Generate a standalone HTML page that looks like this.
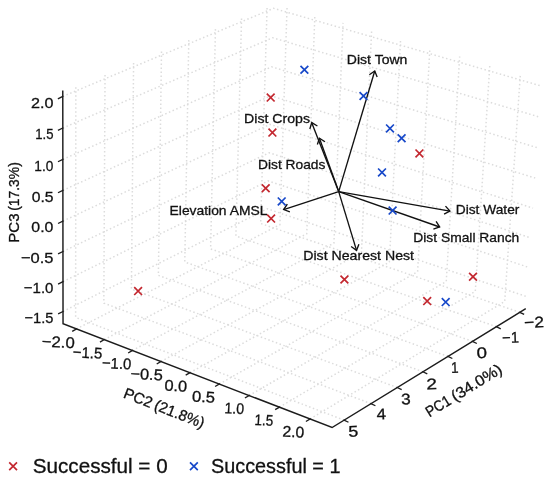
<!DOCTYPE html>
<html lang="en"><head><meta charset="utf-8"><title>PCA biplot</title>
<style>
html,body{margin:0;padding:0;background:#fff}
body{width:550px;height:478px;overflow:hidden}
svg{display:block}
text{font-family:"Liberation Sans",sans-serif;fill:#111111;stroke:#111111;stroke-width:0.3px}
.g{fill:none;stroke:#dcdcdc;stroke-width:1.5;stroke-dasharray:1.5 2.5}
.a{fill:none;stroke:#1c1c1c;stroke-width:1.45;stroke-linejoin:miter}
.t{stroke:#1c1c1c;stroke-width:1.3}
.ar{fill:none;stroke:#111;stroke-width:1.35;stroke-linejoin:miter}
.mr{fill:none;stroke:#c3272f;stroke-width:1.7}
.mb{fill:none;stroke:#1748c9;stroke-width:1.7}
</style></head><body>
<svg width="550" height="478" viewBox="0 0 550 478">
<rect width="550" height="478" fill="#fff"/>
<g class="grid">
<polyline class="g" points="519.77,312.34 260.64,223.47 267.14,5.54"/>
<polyline class="g" points="496.37,326.7 235.89,236.04 241.61,16.16"/>
<polyline class="g" points="472.44,341.38 210.61,248.87 215.5,27.01"/>
<polyline class="g" points="447.95,356.41 184.78,261.98 188.82,38.1"/>
<polyline class="g" points="422.9,371.78 158.38,275.38 161.53,49.44"/>
<polyline class="g" points="397.25,387.52 131.41,289.08 133.61,61.05"/>
<polyline class="g" points="370.99,403.63 103.83,303.08 105.05,72.92"/>
<polyline class="g" points="344.1,420.13 75.63,317.39 75.82,85.07"/>
<polyline class="g" points="76.4,328.93 279.91,224.66 287.07,6.68"/>
<polyline class="g" points="104.18,339.64 306.74,233.83 314.88,14.71"/>
<polyline class="g" points="132.35,350.5 333.92,243.11 343.06,22.85"/>
<polyline class="g" points="160.92,361.51 361.46,252.52 371.61,31.1"/>
<polyline class="g" points="189.89,372.68 389.35,262.05 400.56,39.46"/>
<polyline class="g" points="219.29,384.01 417.62,271.71 429.9,47.93"/>
<polyline class="g" points="249.11,395.51 446.26,281.49 459.65,56.52"/>
<polyline class="g" points="279.37,407.18 475.29,291.41 489.81,65.23"/>
<polyline class="g" points="310.08,419.01 504.7,301.46 520.39,74.07"/>
<polyline class="g" points="63.03,311.51 267.34,208.77 526.64,296.63"/>
<polyline class="g" points="62.99,281.65 268.2,180.89 528.76,267.41"/>
<polyline class="g" points="62.96,251.52 269.07,152.76 530.9,237.9"/>
<polyline class="g" points="62.92,221.09 269.95,124.38 533.05,208.13"/>
<polyline class="g" points="62.88,190.37 270.83,95.75 535.23,178.07"/>
<polyline class="g" points="62.85,159.35 271.72,66.86 537.43,147.73"/>
<polyline class="g" points="62.81,128.03 272.62,37.72 539.65,117.1"/>
<polyline class="g" points="62.77,96.41 273.52,8.32 541.89,86.18"/>
</g>
<g class="axes">
<polyline class="a" points="62.77,90.49 63.04,323.78 332.09,427.5 525.77,308.65"/>
<line class="t" x1="63.53" y1="311.26" x2="58.13" y2="313.91"/>
<line class="t" x1="63.49" y1="281.4" x2="58.09" y2="284.05"/>
<line class="t" x1="63.46" y1="251.27" x2="58.06" y2="253.92"/>
<line class="t" x1="63.42" y1="220.84" x2="58.02" y2="223.49"/>
<line class="t" x1="63.38" y1="190.12" x2="57.98" y2="192.77"/>
<line class="t" x1="63.35" y1="159.1" x2="57.95" y2="161.75"/>
<line class="t" x1="63.31" y1="127.78" x2="57.91" y2="130.43"/>
<line class="t" x1="63.27" y1="96.16" x2="57.87" y2="98.81"/>
<line class="t" x1="77" y1="328.58" x2="72.2" y2="331.43"/>
<line class="t" x1="104.78" y1="339.29" x2="99.98" y2="342.14"/>
<line class="t" x1="132.95" y1="350.15" x2="128.15" y2="353"/>
<line class="t" x1="161.52" y1="361.16" x2="156.72" y2="364.01"/>
<line class="t" x1="190.49" y1="372.33" x2="185.69" y2="375.18"/>
<line class="t" x1="219.89" y1="383.66" x2="215.09" y2="386.51"/>
<line class="t" x1="249.71" y1="395.16" x2="244.91" y2="398.01"/>
<line class="t" x1="279.97" y1="406.83" x2="275.17" y2="409.68"/>
<line class="t" x1="310.68" y1="418.66" x2="305.88" y2="421.51"/>
<line class="t" x1="519.17" y1="312.04" x2="524.17" y2="314.44"/>
<line class="t" x1="495.77" y1="326.4" x2="500.77" y2="328.8"/>
<line class="t" x1="471.84" y1="341.08" x2="476.84" y2="343.48"/>
<line class="t" x1="447.35" y1="356.11" x2="452.35" y2="358.51"/>
<line class="t" x1="422.3" y1="371.48" x2="427.3" y2="373.88"/>
<line class="t" x1="396.65" y1="387.22" x2="401.65" y2="389.62"/>
<line class="t" x1="370.39" y1="403.33" x2="375.39" y2="405.73"/>
<line class="t" x1="343.5" y1="419.83" x2="348.5" y2="422.23"/>
</g>
<g class="labels">
<text class="tl" x="24.57" y="322.71" font-size="15.4" textLength="28.91" lengthAdjust="spacingAndGlyphs">−1.5</text>
<text class="tl" x="23.75" y="292.85" font-size="15.4" textLength="29.66" lengthAdjust="spacingAndGlyphs">−1.0</text>
<text class="tl" x="20.98" y="262.72" font-size="15.4" textLength="32.57" lengthAdjust="spacingAndGlyphs">−0.5</text>
<text class="tl" x="31.36" y="232.29" font-size="15.4" textLength="22.09" lengthAdjust="spacingAndGlyphs">0.0</text>
<text class="tl" x="31.67" y="201.57" font-size="15.4" textLength="21.86" lengthAdjust="spacingAndGlyphs">0.5</text>
<text class="tl" x="34.37" y="170.55" font-size="15.4" textLength="19.01" lengthAdjust="spacingAndGlyphs">1.0</text>
<text class="tl" x="35.22" y="139.23" font-size="15.4" textLength="18.21" lengthAdjust="spacingAndGlyphs">1.5</text>
<text class="tl" x="30.99" y="107.61" font-size="15.4" textLength="22.48" lengthAdjust="spacingAndGlyphs">2.0</text>
<text class="tl" x="41.87" y="347.37" font-size="15.4" textLength="32.9" lengthAdjust="spacingAndGlyphs" transform="rotate(3 58.45 341.83)">−2.0</text>
<text class="tl" x="72.85" y="358.06" font-size="15.4" textLength="29.53" lengthAdjust="spacingAndGlyphs" transform="rotate(3 87.7 352.52)">−1.5</text>
<text class="tl" x="101.95" y="368.76" font-size="15.4" textLength="29.46" lengthAdjust="spacingAndGlyphs" transform="rotate(3 116.8 363.22)">−1.0</text>
<text class="tl" x="130.48" y="379.59" font-size="15.4" textLength="32.36" lengthAdjust="spacingAndGlyphs" transform="rotate(3 146.75 374.05)">−0.5</text>
<text class="tl" x="164.45" y="391.14" font-size="15.4" textLength="22.73" lengthAdjust="spacingAndGlyphs" transform="rotate(3 175.85 385.59)">0.0</text>
<text class="tl" x="191.93" y="402.23" font-size="15.4" textLength="23.13" lengthAdjust="spacingAndGlyphs" transform="rotate(3 203.5 396.68)">0.5</text>
<text class="tl" x="224.44" y="413.73" font-size="15.4" textLength="19.66" lengthAdjust="spacingAndGlyphs" transform="rotate(3 234.55 408.18)">1.0</text>
<text class="tl" x="254.49" y="425.45" font-size="15.4" textLength="18.75" lengthAdjust="spacingAndGlyphs" transform="rotate(3 264.1 419.91)">1.5</text>
<text class="tl" x="282.62" y="437.07" font-size="15.4" textLength="21.73" lengthAdjust="spacingAndGlyphs" transform="rotate(3 293.6 431.52)">2.0</text>
<text class="tl" x="524.13" y="327.4" font-size="15.4" textLength="19.84" lengthAdjust="spacingAndGlyphs" transform="rotate(-2 534.05 321.86)">−2</text>
<text class="tl" x="502.17" y="342.7" font-size="15.4" textLength="16.69" lengthAdjust="spacingAndGlyphs" transform="rotate(-2 510.55 337.16)">−1</text>
<text class="tl" x="476.65" y="358" font-size="15.4" textLength="10.43" lengthAdjust="spacingAndGlyphs" transform="rotate(-2 481.9 352.46)">0</text>
<text class="tl" x="451" y="372.9" font-size="15.4" textLength="7.42" lengthAdjust="spacingAndGlyphs" transform="rotate(-2 454.9 367.36)">1</text>
<text class="tl" x="426.34" y="389.3" font-size="15.4" textLength="10.63" lengthAdjust="spacingAndGlyphs" transform="rotate(-2 431.65 383.76)">2</text>
<text class="tl" x="401.11" y="404.3" font-size="15.4" textLength="9.6" lengthAdjust="spacingAndGlyphs" transform="rotate(-2 405.9 398.76)">3</text>
<text class="tl" x="376.56" y="419.4" font-size="15.4" textLength="9.47" lengthAdjust="spacingAndGlyphs" transform="rotate(-2 381.2 413.86)">4</text>
<text class="tl" x="348.38" y="436.5" font-size="15.4" textLength="9.95" lengthAdjust="spacingAndGlyphs" transform="rotate(-2 353.35 430.96)">5</text>
<text class="xl" y="207.81" font-size="15.3" transform="rotate(-90 13.6 202.3)"><tspan x="-26.8" textLength="29.21" lengthAdjust="spacingAndGlyphs">PC3</tspan> <tspan x="5.17" textLength="48.48" lengthAdjust="spacingAndGlyphs">(17.3%)</tspan></text>
<text class="xl" y="413.31" font-size="15.3" transform="rotate(21.3 164.5 407.8)"><tspan x="121.53" textLength="29.58" lengthAdjust="spacingAndGlyphs">PC2</tspan> <tspan x="154.45" textLength="52.73" lengthAdjust="spacingAndGlyphs">(21.8%)</tspan></text>
<text class="xl" y="395.61" font-size="15.3" transform="rotate(-31.6 463.6 390.1)"><tspan x="420.26" textLength="26.51" lengthAdjust="spacingAndGlyphs">PC1</tspan> <tspan x="450.18" textLength="56.67" lengthAdjust="spacingAndGlyphs">(34.0%)</tspan></text>
</g>
<g class="arrows">
<line class="ar" x1="338.7" y1="191.6" x2="374.74" y2="70.96"/>
<polyline class="ar" points="369.36,74.78 374.74,70.96 377.15,77.11"/>
<line class="ar" x1="338.7" y1="191.6" x2="311.73" y2="122.64"/>
<polyline class="ar" points="309.84,128.96 311.73,122.64 317.41,126"/>
<line class="ar" x1="338.7" y1="191.6" x2="319.41" y2="138.25"/>
<polyline class="ar" points="317.35,144.52 319.41,138.25 325,141.76"/>
<line class="ar" x1="338.7" y1="191.6" x2="283.66" y2="209.52"/>
<polyline class="ar" points="289.86,211.77 283.66,209.52 287.34,204.05"/>
<line class="ar" x1="338.7" y1="191.6" x2="356.54" y2="250.34"/>
<polyline class="ar" points="358.92,244.18 356.54,250.34 351.14,246.54"/>
<line class="ar" x1="338.7" y1="191.6" x2="439.65" y2="227"/>
<polyline class="ar" points="436.09,221.45 439.65,227 433.4,229.12"/>
<line class="ar" x1="338.7" y1="191.6" x2="449.91" y2="211.04"/>
<polyline class="ar" points="445.49,206.15 449.91,211.04 444.09,214.15"/>
</g>
<g class="alabels">
<text class="al" x="346.88" y="64.4" font-size="13.3" textLength="60.45" lengthAdjust="spacingAndGlyphs">Dist Town</text>
<text class="al" x="244.07" y="122.5" font-size="13.3" textLength="65.89" lengthAdjust="spacingAndGlyphs">Dist Crops</text>
<text class="al" x="258" y="169.4" font-size="13.3" textLength="67.39" lengthAdjust="spacingAndGlyphs">Dist Roads</text>
<text class="al" x="169.59" y="215.4" font-size="13.3" textLength="97.82" lengthAdjust="spacingAndGlyphs">Elevation AMSL</text>
<text class="al" x="303.27" y="259.9" font-size="13.3" textLength="110.71" lengthAdjust="spacingAndGlyphs">Dist Nearest Nest</text>
<text class="al" x="413.29" y="242.2" font-size="13.3" textLength="105.99" lengthAdjust="spacingAndGlyphs">Dist Small Ranch</text>
<text class="al" x="455.8" y="213.8" font-size="13.3" textLength="63.57" lengthAdjust="spacingAndGlyphs">Dist Water</text>
</g>
<g class="pts">
<path class="mr" d="M266.8 93.7L274.6 101.5M266.8 101.5L274.6 93.7"/>
<path class="mr" d="M268.5 128.7L276.3 136.5M268.5 136.5L276.3 128.7"/>
<path class="mr" d="M261.8 184.3L269.6 192.1M261.8 192.1L269.6 184.3"/>
<path class="mr" d="M267.2 214.7L275 222.5M267.2 222.5L275 214.7"/>
<path class="mr" d="M415.5 149.5L423.3 157.3M415.5 157.3L423.3 149.5"/>
<path class="mr" d="M134.2 287.2L142 295M134.2 295L142 287.2"/>
<path class="mr" d="M340.5 275.6L348.3 283.4M340.5 283.4L348.3 275.6"/>
<path class="mr" d="M469.1 272.9L476.9 280.7M469.1 280.7L476.9 272.9"/>
<path class="mr" d="M423.3 297.2L431.1 305M423.3 305L431.1 297.2"/>
<path class="mb" d="M300.5 65.9L308.3 73.7M300.5 73.7L308.3 65.9"/>
<path class="mb" d="M359.6 92.1L367.4 99.9M359.6 99.9L367.4 92.1"/>
<path class="mb" d="M386.1 124.5L393.9 132.3M386.1 132.3L393.9 124.5"/>
<path class="mb" d="M397.7 134.3L405.5 142.1M397.7 142.1L405.5 134.3"/>
<path class="mb" d="M378.1 168.5L385.9 176.3M378.1 176.3L385.9 168.5"/>
<path class="mb" d="M277.8 197.5L285.6 205.3M277.8 205.3L285.6 197.5"/>
<path class="mb" d="M388.7 206.7L396.5 214.5M388.7 214.5L396.5 206.7"/>
<path class="mb" d="M441.8 298.2L449.6 306M441.8 306L449.6 298.2"/>
</g>
<g class="legend">
<path class="mr" d="M9.2 462.3L17 470.1M9.2 470.1L17 462.3"/>
<path class="mb" d="M190 462.3L197.8 470.1M190 470.1L197.8 462.3"/>
<text class="lg" x="32.77" y="472.7" font-size="19.5" textLength="134.88" lengthAdjust="spacingAndGlyphs">Successful = 0</text>
<text class="lg" x="211.01" y="472.7" font-size="19.5" textLength="129.41" lengthAdjust="spacingAndGlyphs">Successful = 1</text>
</g>
</svg>
</body></html>
